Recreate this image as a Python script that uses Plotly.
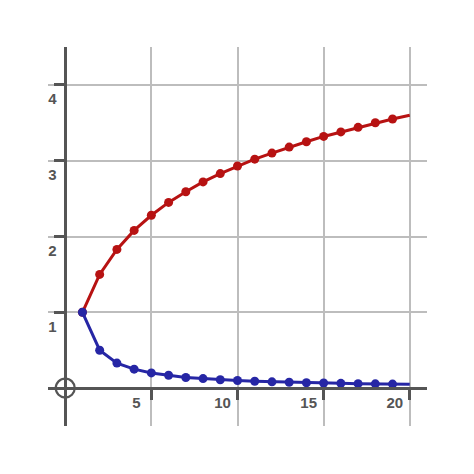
import plotly.graph_objects as go

# n = 1..20, harmonic sum (red) and reciprocal (blue)
n = [1, 2, 3, 4, 5, 6, 7, 8, 9, 10, 11, 12, 13, 14, 15, 16, 17, 18, 19, 20]
harmonic = [1.0, 1.5, 1.83, 2.08, 2.28, 2.45, 2.59, 2.72, 2.83, 2.93,
            3.02, 3.10, 3.18, 3.25, 3.32, 3.38, 3.44, 3.50, 3.55, 3.60]
reciprocal = [1.0, 0.5, 0.33, 0.25, 0.2, 0.17, 0.14, 0.125, 0.11, 0.1,
              0.09, 0.083, 0.077, 0.071, 0.067, 0.063, 0.059, 0.056, 0.053, 0.05]
x_ticks = [5, 10, 15, 20]
y_ticks = [1, 2, 3, 4]
origin_x = [0]
origin_y = [0]

red = 'rgb(183, 18, 18)'
blue = 'rgb(38, 38, 165)'
axis_col = '#555555'
grid_col = '#bdbdbd'

fig = go.Figure()

for ys, col in ((harmonic, red), (reciprocal, blue)):
    fig.add_trace(go.Scatter(x=n, y=ys, mode='lines',
                             line=dict(color=col, width=3),
                             hoverinfo='skip'))
    # last point is drawn without a dot
    fig.add_trace(go.Scatter(x=n[:-1], y=ys[:-1], mode='markers',
                             marker=dict(color=col, size=9)))

fig.add_trace(go.Scatter(x=origin_x, y=origin_y, mode='markers',
                         marker=dict(symbol='circle-open', size=19,
                                     color=axis_col, line=dict(width=2.2))))

axis_font = dict(family='Liberation Sans, Arial, sans-serif', size=15,
                 color=axis_col, weight='bold')

# page body keeps its 8px margin, so the plot box is pulled up/left by 8
fig.update_layout(
    width=474, height=474,
    margin=dict(l=40, r=55, t=39, b=56),
    paper_bgcolor='white', plot_bgcolor='white',
    showlegend=False,
    xaxis=dict(range=[-1, 21], tickvals=x_ticks, ticks='outside', ticklen=10,
               tickwidth=2.5, tickcolor=axis_col, showgrid=True,
               gridcolor=grid_col, gridwidth=2, zeroline=False,
               showline=True, linecolor=axis_col, linewidth=2.5,
               anchor='free', position=0.1, tickfont=axis_font,
               ticklabelshift=-15, ticklabelstandoff=-10),
    yaxis=dict(range=[-0.5, 4.5], tickvals=y_ticks, ticks='outside', ticklen=10,
               tickwidth=2.5, tickcolor=axis_col, showgrid=True,
               gridcolor=grid_col, gridwidth=2, zeroline=False,
               showline=True, linecolor=axis_col, linewidth=2.5,
               anchor='free', position=1 / 22, tickfont=axis_font,
               ticklabelshift=14, ticklabelstandoff=-5),
)

fig.write_html("out.html")
